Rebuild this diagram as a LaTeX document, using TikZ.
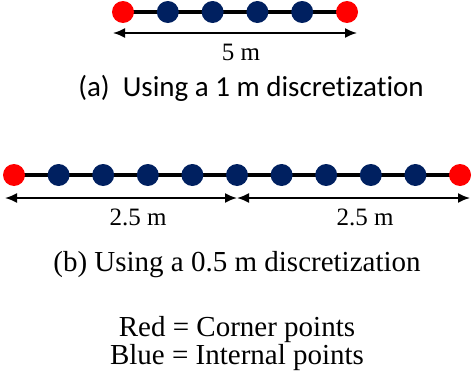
\documentclass[tikz,border=0pt]{standalone}
\usepackage{fontspec}
\setmainfont{Liberation Serif}
\newfontfamily\calfont[Ligatures={NoCommon}]{Carlito}
\usetikzlibrary{arrows.meta,backgrounds}
\definecolor{navy}{RGB}{0,32,96}
\definecolor{cred}{RGB}{255,0,0}
\begin{document}
\begin{tikzpicture}[x=1pt,y=-1pt,
  corner/.style={circle,fill=cred,inner sep=0pt,minimum size=22pt},
  internal/.style={circle,fill=navy,inner sep=0pt,minimum size=22pt},
  bar/.style={line width=3.2pt,black},
  dim/.style={line width=1.8pt,{Latex[length=12pt,width=10pt]}-{Latex[length=12pt,width=10pt]}},
  lab/.style={font=\fontsize{25}{28}\selectfont,inner sep=0pt},
  captxt/.style={font=\fontsize{29}{32}\selectfont,inner sep=0pt},
  capsans/.style={font=\calfont\fontsize{29}{32}\selectfont,inner sep=0pt}]
\useasboundingbox (0,0) rectangle (474,380);
% top row
\node[corner] (a0) at (123,12) {};
\foreach \i in {1,...,4} \node[internal] (a\i) at (123+44.8*\i,12) {};
\node[corner] (a5) at (347,12) {};
\begin{scope}[on background layer]
\draw[bar] (a0.center) -- (a5.center);
\end{scope}
\coordinate (ta) at (113,33);
\coordinate (tb) at (357,33);
\draw[dim] (ta) -- (tb);
\node[lab] (l5) at (241,52) {5 m};
\node[capsans] (capa) at (251,88) {(a)\ \ Using a 1 m discretization};
% bottom row
\node[corner] (b0) at (14,175) {};
\foreach \i in {1,...,9} \node[internal] (b\i) at (14+44.6*\i,175) {};
\node[corner] (b10) at (460,175) {};
\begin{scope}[on background layer]
\draw[bar] (b0.center) -- (b10.center);
\end{scope}
\coordinate (ba) at (5,198);
\coordinate (bm) at (237,198);
\coordinate (bb) at (470,198);
\draw[dim] (ba) -- (bm);
\draw[dim] (bm) -- (bb);
\node[lab] (l25a) at (138,217) {2.5 m};
\node[lab] (l25b) at (365,217) {2.5 m};
\node[captxt] (capb) at (237,265) {(b) Using a 0.5 m discretization};
\node[captxt] (red) at (237,330) {Red = Corner points};
\node[captxt] (blue) at (237,358) {Blue = Internal points};
\end{tikzpicture}
\end{document}
